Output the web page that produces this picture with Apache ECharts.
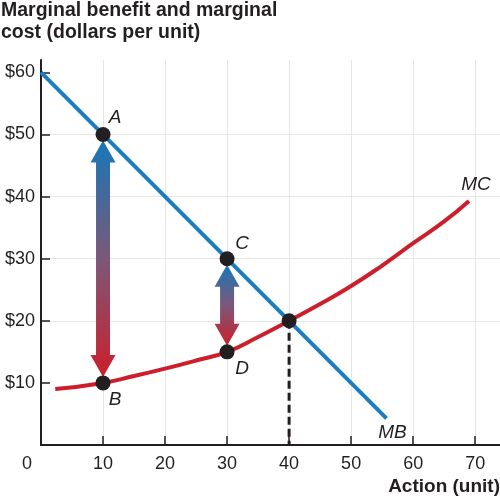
<!DOCTYPE html>
<html>
<head>
<meta charset="utf-8">
<script src="https://cdn.jsdelivr.net/npm/echarts@6/dist/echarts.min.js"></script>
<style>
	html, body { margin: 0; padding: 0; background: #fff; }
	#chart { width: 500px; height: 498px; }
</style>
</head>
<body>
<div id="chart"></div>
<script>
// marginal benefit: straight line
var mbX = [0, 55.7];
var mbY = [60, 4.3];

// marginal cost: rising curve
var mcX = [2.3, 10, 15, 20, 25, 30, 35, 40, 45, 50, 55, 60, 65, 69];
var mcY = [9, 10, 11.1, 12.3, 13.6, 15, 17.4, 20, 22.7, 25.6, 28.9, 32.5, 36.0, 39.3];

// labelled points
var pointNames = ['A', 'B', 'C', 'D', ''];
var pointX = [10, 10, 30, 30, 40];
var pointY = [50, 10, 30, 15, 20];

// gap arrows: x, top value, bottom value
var arrowX = [10, 30];
var arrowTop = [50, 30];
var arrowBottom = [10, 15];

// dashed drop line at the optimum
var dropX = [40, 40];
var dropY = [20, 0];

var xTicks = [0, 10, 20, 30, 40, 50, 60, 70];
var yTicks = [10, 20, 30, 40, 50, 60];

var ink = '#231f20';
var font = '"Liberation Sans", Arial, sans-serif';

var zip = function(xs, ys){
	var out = [];
	for( var i = 0; i < xs.length; i++ ){
		out.push( [xs[i], ys[i]] );
	}
	return out;
};

// label offsets from dot centre, by point name
var labelOffset = {
	A:[12, -17],
	B:[12, 17],
	C:[15, -15],
	D:[15, 17]
};

var pointData = [];
for( var i = 0; i < pointNames.length; i++ ){
	var name = pointNames[i];
	pointData.push( {
		name:name,
		value:[pointX[i], pointY[i]],
		label:{
			show:!!name,
			position:'inside',
			offset:labelOffset[name] || [0, 0]
		}
	} );
}

var arrowData = [];
for( var i = 0; i < arrowX.length; i++ ){
	arrowData.push( [arrowX[i], arrowTop[i], arrowBottom[i]] );
}

var renderArrow = function(params, api){
	var top = api.coord( [api.value(0), api.value(1)] );
	var bot = api.coord( [api.value(0), api.value(2)] );
	var x = top[0];
	var y1 = top[1] + 6;
	var y2 = bot[1] - 6;
	var hw = 12.5, sw = 7, hh = 22;
	return {
		type:'polygon',
		shape:{
			points:[
				[x, y1], [x + hw, y1 + hh], [x + sw, y1 + hh],
				[x + sw, y2 - hh], [x + hw, y2 - hh], [x, y2],
				[x - hw, y2 - hh], [x - sw, y2 - hh], [x - sw, y1 + hh],
				[x - hw, y1 + hh]
			]
		},
		style:{
			fill:new echarts.graphic.LinearGradient( 0, 0, 0, 1, [
				{offset:0, color:'#1777b9'},
				{offset:0.5, color:'#7b5878'},
				{offset:1, color:'#cc1f2b'}
			] )
		}
	};
};

var chart = echarts.init( document.getElementById( 'chart' ) );

chart.setOption( {
	animation:false,
	textStyle:{fontFamily:font, color:ink},
	title:{
		text:'Marginal benefit and marginal\ncost (dollars per unit)',
		left:1,
		top:0,
		padding:0,
		textStyle:{fontFamily:font, fontSize:19.5, fontWeight:'bold', lineHeight:22, color:ink}
	},
	graphic:[
		{
			type:'text',
			right:0,
			top:477,
			style:{text:'Action (unit)', font:'bold 19px ' + font, fill:ink}
		}
	],
	grid:{left:41, right:0, top:60, bottom:53},
	xAxis:{
		type:'value',
		min:0,
		max:74,
		interval:10,
		axisLine:{lineStyle:{color:ink, width:2}},
		axisTick:{inside:true, length:9, customValues:xTicks, lineStyle:{color:ink, width:1.5}},
		axisLabel:{
			customValues:xTicks,
			fontSize:18,
			color:ink,
			margin:10,
			formatter:function(v){
				return v === 0 ? '{z|0}' : String( v );
			},
			rich:{z:{fontSize:18, color:ink, padding:[0, 28, 0, 0]}}
		},
		splitLine:{show:true, showMinLine:false, lineStyle:{color:'#e6e6e6', width:1}}
	},
	yAxis:{
		type:'value',
		min:0,
		max:62,
		interval:10,
		axisLine:{show:true, lineStyle:{color:ink, width:2}},
		axisTick:{show:true, inside:true, length:9, customValues:yTicks, lineStyle:{color:ink, width:1.5}},
		axisLabel:{
			customValues:yTicks,
			fontSize:18,
			color:ink,
			margin:6,
			formatter:function(v){
				return '$' + v;
			}
		},
		splitLine:{show:true, showMinLine:false, showMaxLine:false, lineStyle:{color:'#e6e6e6', width:1}}
	},
	series:[
		{
			name:'drop',
			type:'line',
			data:zip( dropX, dropY ),
			showSymbol:false,
			lineStyle:{color:ink, width:3, type:[8, 4]},
			z:1
		},
		{
			name:'MB',
			type:'line',
			data:zip( mbX, mbY ),
			showSymbol:false,
			lineStyle:{color:'#1a7dc4', width:4},
			endLabel:{
				show:true,
				formatter:'MB',
				distance:0,
				align:'center',
				verticalAlign:'middle',
				offset:[6, 14],
				fontSize:19,
				fontStyle:'italic',
				color:ink
			},
			z:2
		},
		{
			name:'MC',
			type:'line',
			data:zip( mcX, mcY ),
			smooth:0.5,
			showSymbol:false,
			lineStyle:{color:'#cc1f2b', width:4},
			endLabel:{
				show:true,
				formatter:'MC',
				distance:0,
				align:'center',
				verticalAlign:'middle',
				offset:[7, -16],
				fontSize:19,
				fontStyle:'italic',
				color:ink
			},
			z:2
		},
		{
			name:'gap',
			type:'custom',
			renderItem:renderArrow,
			data:arrowData,
			z:3
		},
		{
			name:'points',
			type:'scatter',
			data:pointData,
			symbolSize:15,
			itemStyle:{color:ink, opacity:1},
			label:{
				formatter:'{b}',
				fontSize:19,
				fontStyle:'italic',
				color:ink
			},
			z:5
		}
	]
} );
</script>
</body>
</html>
